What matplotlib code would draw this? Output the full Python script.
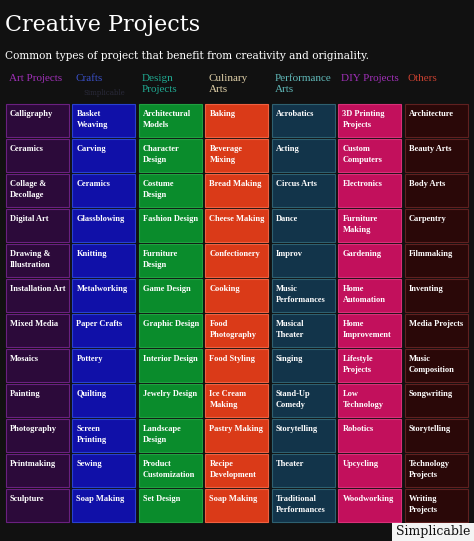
import matplotlib.pyplot as plt
from matplotlib.patches import Rectangle

# ==========================
# 数据
# ==========================
HEADERS = ["Art Projects", "Crafts", "Design\nProjects", "Culinary\nArts",
           "Performance\nArts", "DIY Projects", "Others"]

ART = ["Calligraphy", "Ceramics", "Collage &\nDecollage", "Digital Art", "Drawing &\nIllustration",
       "Installation Art", "Mixed Media", "Mosaics", "Painting", "Photography", "Printmaking", "Sculpture"]
CRAFTS = ["Basket\nWeaving", "Carving", "Ceramics", "Glassblowing", "Knitting", "Metalworking",
          "Paper Crafts", "Pottery", "Quilting", "Screen\nPrinting", "Sewing", "Soap Making"]
DESIGN = ["Architectural\nModels", "Character\nDesign", "Costume\nDesign", "Fashion Design",
          "Furniture\nDesign", "Game Design", "Graphic Design", "Interior Design", "Jewelry Design",
          "Landscape\nDesign", "Product\nCustomization", "Set Design"]
CULINARY = ["Baking", "Beverage\nMixing", "Bread Making", "Cheese Making", "Confectionery", "Cooking",
            "Food\nPhotography", "Food Styling", "Ice Cream\nMaking", "Pastry Making",
            "Recipe\nDevelopment", "Soap Making"]
PERFORMANCE = ["Acrobatics", "Acting", "Circus Arts", "Dance", "Improv", "Music\nPerformances",
               "Musical\nTheater", "Singing", "Stand-Up\nComedy", "Storytelling", "Theater",
               "Traditional\nPerformances"]
DIY = ["3D Printing\nProjects", "Custom\nComputers", "Electronics", "Furniture\nMaking", "Gardening",
       "Home\nAutomation", "Home\nImprovement", "Lifestyle\nProjects", "Low\nTechnology", "Robotics",
       "Upcycling", "Woodworking"]
OTHERS = ["Architecture", "Beauty Arts", "Body Arts", "Carpentry", "Filmmaking", "Inventing",
          "Media Projects", "Music\nComposition", "Songwriting", "Storytelling",
          "Technology\nProjects", "Writing\nProjects"]
COLUMNS = [ART, CRAFTS, DESIGN, CULINARY, PERFORMANCE, DIY, OTHERS]

# 样式
HEADER_COLORS = ["#a030b8", "#3a50c8", "#20a890", "#e0d0a8", "#60b8b8", "#a030b8", "#c84030"]
FILL_COLORS = ["#2c0a3a", "#1010a8", "#0a8c2c", "#da3a18", "#12344a", "#c2105c", "#2a0808"]
EDGE_COLORS = ["#6a2080", "#2840d0", "#20a040", "#f06040", "#2e6070", "#d83078", "#602020"]
BG = "#111111"

fig = plt.figure(figsize=(4.74, 5.41), dpi=100)
fig.patch.set_facecolor(BG)
ax = fig.add_axes([0, 0, 1, 1])
ax.set_xlim(0, 474)
ax.set_ylim(541, 0)
ax.axis("off")

SERIF = ["DejaVu Serif"]
CELL = ["Liberation Serif"]

ax.text(5, 25, "Creative Projects", color="white", fontsize=16, family=SERIF,
        va="center", ha="left")
ax.text(5, 56, "Common types of project that benefit from creativity and originality.",
        color="white", fontsize=7.6, family=SERIF, va="center", ha="left")

x0, pitch, w = 6, 66.5, 63
y0, rpitch, h = 104, 35, 33

for c, items in enumerate(COLUMNS):
    x = x0 + c * pitch
    ax.text(x + 3, 74, HEADERS[c], color=HEADER_COLORS[c], fontsize=8, family=CELL,
            va="top", ha="left", linespacing=1.3)
    for r, item in enumerate(items):
        y = y0 + r * rpitch
        ax.add_patch(Rectangle((x, y), w, h, facecolor=FILL_COLORS[c],
                               edgecolor=EDGE_COLORS[c], linewidth=0.8))
        ax.text(x + 4, y + 6, item, color="white", fontsize=6.0, family=CELL,
                fontweight="bold", va="top", ha="left", linespacing=1.5)

ax.text(104, 93, "Simplicable", color="#2a2a3a", fontsize=5, family=SERIF,
        va="center", ha="center")

ax.add_patch(Rectangle((392, 523), 82, 18, facecolor="#f4f4f4", edgecolor="none"))
ax.text(433, 531, "Simplicable", color="#111111", fontsize=9, family=SERIF,
        va="center", ha="center")

fig.savefig("out.png", dpi=100, facecolor=BG)
